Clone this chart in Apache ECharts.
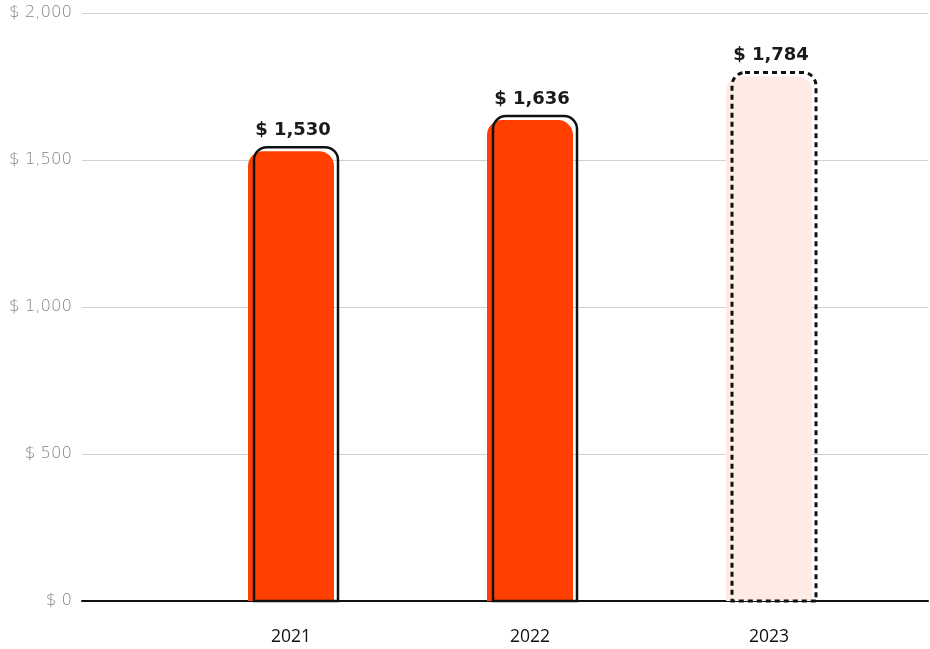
<!DOCTYPE html>
<html>
<head>
<meta charset="utf-8">
<script src="https://cdn.jsdelivr.net/npm/echarts@6/dist/echarts.min.js"></script>
<style>
  html, body { margin: 0; padding: 0; background: #fff; }
  #chart { width: 930px; height: 649px; }
</style>
</head>
<body>
<div id="chart"></div>
<script>
var years = ['2021', '2022', '2023'];
var totals = [1530, 1636, 1784];
var projected = [false, false, true]; // 2023 is the dashed / estimated bar
var yTicks = [0, 500, 1000, 1500, 2000];

function money(v) {
  return '$ ' + v.toLocaleString('en-US');
}

var chart = echarts.init(document.getElementById('chart'));

// bar + offset outline + value label
function renderBar(params, api) {
  var idx = api.value(0);
  var val = api.value(1);
  var top = api.coord([idx, val]);
  var base = api.coord([idx, 0]);
  var cx = top[0];
  var est = projected[params.dataIndex];
  return {
    type: 'group',
    children: [{
      type: 'rect',
      shape: { x: cx - 43, y: top[1], width: 86, height: base[1] - top[1], r: [15, 15, 0, 0] },
      style: { fill: est ? '#feebe4' : '#ff4000' }
    }, {
      type: 'rect',
      shape: { x: cx - 37, y: top[1] - 4, width: 84, height: base[1] - top[1] + 4, r: [13, 13, 0, 0] },
      style: { fill: null, stroke: '#111', lineWidth: est ? 3 : 2.5, lineDash: est ? [5, 4] : null }
    }, {
      type: 'text',
      style: {
        text: money(totals[params.dataIndex]),
        x: cx + 2, y: top[1] - 21,
        align: 'center', verticalAlign: 'middle',
        fill: '#1a1a1a',
        font: 'bold 18px "DejaVu Sans"'
      }
    }]
  };
}

var option = {
  animation: false,
  grid: [
    { left: 82, right: 2, top: 13, bottom: 48 },
    { left: 171.5, right: 41.5, top: 13, bottom: 48 }
  ],
  xAxis: [{
    gridIndex: 0,
    type: 'value', min: 0, max: 1,
    axisLine: { show: true, lineStyle: { color: '#111', width: 2 } },
    axisTick: { show: false },
    axisLabel: { show: false },
    splitLine: { show: false }
  }, {
    gridIndex: 1,
    type: 'category',
    data: years,
    axisLine: { show: false },
    axisTick: { show: false },
    axisLabel: { color: '#111', fontFamily: 'Open Sans', fontSize: 17.5, margin: 27 }
  }],
  yAxis: [{
    gridIndex: 0,
    type: 'value', min: 0, max: 2000, interval: 500,
    axisLine: { show: false },
    axisTick: { show: false },
    axisLabel: {
      color: '#858585', fontFamily: 'DejaVu Sans', fontWeight: 200, fontSize: 16.5, margin: 10,
      formatter: function(v) { return yTicks.indexOf(v) > -1 ? money(v) : ''; }
    },
    splitLine: { lineStyle: { color: '#d2d2d2', width: 1 } }
  }, {
    gridIndex: 1,
    type: 'value', min: 0, max: 2000,
    show: false
  }],
  series: [{
    type: 'custom',
    xAxisIndex: 1,
    yAxisIndex: 1,
    z: 5,
    renderItem: renderBar,
    data: totals.map(function(v, i) { return [i, v]; })
  }]
};
chart.setOption(option);
</script>
</body>
</html>
